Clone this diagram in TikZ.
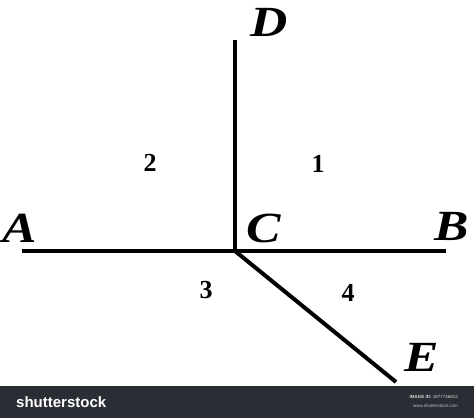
\documentclass[tikz,border=0pt]{standalone}
\usepackage{fontspec}
\setmainfont{Liberation Serif}
\newfontfamily\barfont{Liberation Sans}
\definecolor{bardark}{HTML}{2A2D34}
\newcommand{\widelet}[1]{\scalebox{1.2}[1]{#1}}
\begin{document}
\begin{tikzpicture}[x=1pt,y=-1pt,
  ray/.style={line width=4pt},
  ptlabel/.style={font=\fontsize{43}{43}\selectfont\bfseries\itshape, inner sep=0pt},
  anglabel/.style={font=\fontsize{26}{26}\selectfont\bfseries, inner sep=0pt}]
\useasboundingbox (0,0) rectangle (474,418);
\fill[white] (0,0) rectangle (474,418);
\coordinate (C) at (235,251);
\coordinate (A) at (22,251);
\coordinate (B) at (446,251);
\coordinate (D) at (235,40);
\coordinate (E) at (396,382);
\draw[ray] (A) -- (B);
\draw[ray] (C) -- (D);
\draw[ray] (C) -- (E);
\node[ptlabel] (lD) at (269,22) {\widelet{D}};
\node[ptlabel] (lA) at (20,228) {\widelet{A}};
\node[ptlabel] (lC) at (264,228) {\widelet{C}};
\node[ptlabel] (lB) at (452,226) {\widelet{B}};
\node[ptlabel] (lE) at (422,357) {\widelet{E}};
\node[anglabel] (n2) at (150,163) {2};
\node[anglabel] (n1) at (318,164) {1};
\node[anglabel] (n3) at (206,290) {3};
\node[anglabel] (n4) at (348,293) {4};
\fill[bardark] (0,386) rectangle (474,418);
\node[font=\barfont\fontsize{15}{15}\selectfont\bfseries, text=white, anchor=west, inner sep=0pt] (ss) at (16,402) {shutterstock};
\node[font=\barfont\fontsize{4.5}{4.5}\selectfont, text=white!80!bardark, anchor=east, inner sep=0pt] (id) at (458,397) {\textbf{IMAGE ID:} 1677746812};
\node[font=\barfont\fontsize{4.5}{4.5}\selectfont, text=white!70!bardark, anchor=east, inner sep=0pt] (www) at (458,406) {www.shutterstock.com};
\end{tikzpicture}
\end{document}
